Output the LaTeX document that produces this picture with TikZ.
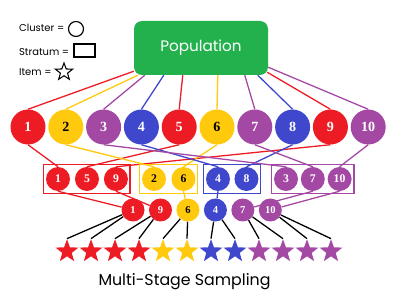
\documentclass[tikz,border=0pt]{standalone}
\usepackage{fontspec}
\setmainfont{Liberation Serif}
\newfontfamily\handfont{Poppins}
\usetikzlibrary{shapes.geometric, positioning, fit, backgrounds}

\definecolor{clred}{RGB}{237,28,36}
\definecolor{clyellow}{RGB}{255,201,14}
\definecolor{clpurple}{RGB}{163,73,164}
\definecolor{clblue}{RGB}{63,72,204}
\definecolor{popgreen}{RGB}{34,177,76}

\begin{document}
\begin{tikzpicture}[
    node distance=0.07cm,
    clusterdot/.style={circle, fill=#1, minimum size=1.05cm, inner sep=0pt, text=white, font=\bfseries\fontsize{12}{12}\selectfont},
    stratumdot/.style={circle, fill=#1, minimum size=0.72cm, inner sep=0pt, text=white, font=\bfseries\fontsize{10}{10}\selectfont},
    pickdot/.style={circle, fill=#1, minimum size=0.69cm, inner sep=0pt, text=white, font=\bfseries\fontsize{9}{9}\selectfont},
    stratumbox/.style={draw=#1, line width=1.2pt, inner sep=0.06cm},
    itemstar/.style={star, star points=5, star point ratio=2.4, fill=#1, minimum size=0.72cm, inner sep=0pt},
    link/.style={line width=1.1pt},
    legendtext/.style={font=\handfont\fontsize{8.5}{10}\selectfont, anchor=west}
]
    \useasboundingbox (0,0) rectangle (12,9.06);

    % legend
    \node[legendtext] (lcluster) at (0.45,8.22) {Cluster =};
    \node[draw, circle, line width=1pt, minimum size=0.45cm, inner sep=0pt] (lcircle) at (2.28,8.19) {};
    \node[legendtext] (lstratum) at (0.45,7.5) {Stratum =};
    \node[draw, line width=1pt, minimum width=0.63cm, minimum height=0.39cm, inner sep=0pt] (lrect) at (2.535,7.545) {};
    \node[legendtext] (litem) at (0.45,6.9) {Item =};
    \node[draw, star, star points=5, star point ratio=2.4, line width=0.9pt, minimum size=0.54cm, inner sep=0pt] (lstar) at (1.92,6.9) {};

    \node[fill=popgreen, rounded corners=0.24cm, minimum width=4.02cm, minimum height=1.62cm, text=white, font=\handfont\fontsize{13}{13}\selectfont] (pop) at (6.03,7.62) {Population};

    % clusters
    \node[clusterdot=clred] (c1) at (0.84,5.25) {1};
    \node[clusterdot=clyellow, text=black, right=of c1] (c2) {2};
    \node[clusterdot=clpurple, right=of c2] (c3) {3};
    \node[clusterdot=clblue, right=of c3] (c4) {4};
    \node[clusterdot=clred, right=of c4] (c5) {5};
    \node[clusterdot=clyellow, text=black, right=of c5] (c6) {6};
    \node[clusterdot=clpurple, right=of c6] (c7) {7};
    \node[clusterdot=clblue, right=of c7] (c8) {8};
    \node[clusterdot=clred, right=of c8] (c9) {9};
    \node[clusterdot=clpurple, right=of c9] (c10) {10};

    % strata
    \node[stratumdot=clred] (s1) at (1.74,3.69) {1};
    \node[stratumdot=clred, right=0.135cm of s1] (s5) {5};
    \node[stratumdot=clred, right=0.135cm of s5] (s9) {9};
    \node[stratumdot=clyellow, text=black] (s2) at (4.62,3.69) {2};
    \node[stratumdot=clyellow, text=black, right=0.15cm of s2] (s6) {6};
    \node[stratumdot=clblue] (s4) at (6.54,3.69) {4};
    \node[stratumdot=clblue, right=0.12cm of s4] (s8) {8};
    \node[stratumdot=clpurple] (s3) at (8.58,3.69) {3};
    \node[stratumdot=clpurple, right=of s3] (s7) {7};
    \node[stratumdot=clpurple, right=of s7] (s10) {10};

    \node[stratumbox=clred, fit=(s1)(s9)] (redset) {};
    \node[stratumbox=clyellow, fit=(s2)(s6)] (yellowset) {};
    \node[stratumbox=clblue, fit=(s4)(s8)] (blueset) {};
    \node[stratumbox=clpurple, fit=(s3)(s10)] (purpleset) {};

    % sampled clusters
    \node[pickdot=clred] (r1) at (3.99,2.76) {1};
    \node[pickdot=clred, right=0.12cm of r1] (r9) {9};
    \node[pickdot=clyellow, text=black, right=0.12cm of r9] (r6) {6};
    \node[pickdot=clblue, right=0.12cm of r6] (r4) {4};
    \node[pickdot=clpurple, right=0.12cm of r4] (r7) {7};
    \node[pickdot=clpurple, right=0.12cm of r7] (r10) {10};

    % items
    \node[itemstar=clred] (t1) at (2.01,1.52) {};
    \node[itemstar=clred] (t2) at (2.73,1.52) {};
    \node[itemstar=clred] (t3) at (3.45,1.52) {};
    \node[itemstar=clred] (t4) at (4.17,1.52) {};
    \node[itemstar=clyellow] (t5) at (4.89,1.52) {};
    \node[itemstar=clyellow] (t6) at (5.61,1.52) {};
    \node[itemstar=clblue] (t7) at (6.33,1.52) {};
    \node[itemstar=clblue] (t8) at (7.05,1.52) {};
    \node[itemstar=clpurple] (t9) at (7.77,1.52) {};
    \node[itemstar=clpurple] (t10) at (8.49,1.52) {};
    \node[itemstar=clpurple] (t11) at (9.21,1.52) {};
    \node[itemstar=clpurple] (t12) at (9.93,1.52) {};

    \node[font=\handfont\fontsize{13.5}{14}\selectfont] (title) at (5.535,0.6) {Multi-Stage Sampling};

    \begin{scope}[on background layer]
        \draw[link, clred] ([yshift=0.12cm]pop.south west) -- (c1.north);
        \draw[link, clyellow] ([xshift=0.12cm]pop.south west) -- (c2.north);
        \draw[link, clpurple] ([xshift=0.33cm]pop.south west) -- (c3.north);
        \draw[link, clblue] ([xshift=0.9cm]pop.south west) -- (c4.north);
        \draw[link, clred] ([xshift=1.47cm]pop.south west) -- (c5.north);
        \draw[link, clyellow] ([xshift=2.52cm]pop.south west) -- (c6.north);
        \draw[link, clpurple] ([xshift=3.33cm]pop.south west) -- (c7.north);
        \draw[link, clblue] ([xshift=3.72cm]pop.south west) -- (c8.north);
        \draw[link, clred] ([xshift=-0.03cm, yshift=0.09cm]pop.south east) -- (c9.north);
        \draw[link, clpurple] ([yshift=0.24cm]pop.south east) -- (c10.north);

        \draw[link, clred] (c1.south) -- (s1.north);
        \draw[link, clred] (c5.south) -- (s5.north);
        \draw[link, clred] (c9.south) -- (s9.north);
        \draw[link, clyellow] (c2.south) -- (s2.north);
        \draw[link, clyellow] (c6.south) -- (s6.north);
        \draw[link, clblue] (c4.south) -- (s4.north);
        \draw[link, clblue] (c8.south) -- (s8.north);
        \draw[link, clpurple] (c3.south) -- (s3.north);
        \draw[link, clpurple] (c7.south) -- (s7.north);
        \draw[link, clpurple] (c10.south) -- (s10.north);

        \draw[link, clred] (s1.south) -- (r1);
        \draw[link, clred] (s9.south) -- (r9);
        \draw[link, clyellow] (s6.south) -- (r6);
        \draw[link, clblue] (s4.south) -- (r4);
        \draw[link, clpurple] (s7.south) -- (r7);
        \draw[link, clpurple] (s10.south) -- (r10);

        \draw[link] (r1) -- (t1.north);
        \draw[link] (r1) -- (t2.north);
        \draw[link] (r9) -- (t3.north);
        \draw[link] (r9) -- (t4.north);
        \draw[link] (r6) -- (t5.north);
        \draw[link] (r6) -- (t6.north);
        \draw[link] (r4) -- (t7.north);
        \draw[link] (r4) -- (t8.north);
        \draw[link] (r7) -- (t9.north);
        \draw[link] (r7) -- (t10.north);
        \draw[link] (r10) -- (t11.north);
        \draw[link] (r10) -- (t12.north);
    \end{scope}
\end{tikzpicture}
\end{document}
